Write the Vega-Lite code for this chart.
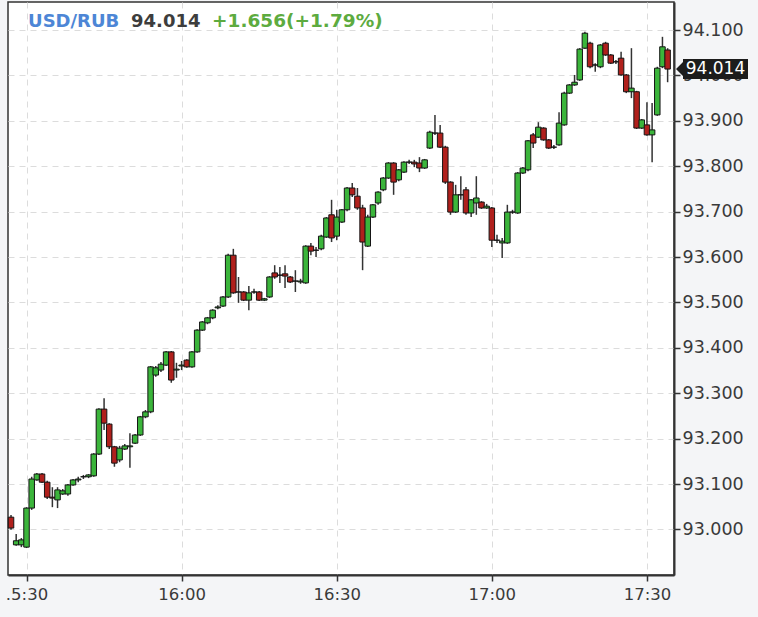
{
"$schema": "https://vega.github.io/schema/vega-lite/v6.json",
"width": 666, "height": 573,
"autosize": {"type": "none"},
"padding": {"left": 8, "top": 2, "right": 84, "bottom": 42},
"background": "#f4f5f7",
"config": {"view": {"fill": "white", "stroke": "#333333", "strokeWidth": 1.5}, "font": "DejaVu Sans"},
"datasets": {
"candles": [
{"t":"2023-08-10T15:27","o":93.027,"c":93.003,"h":93.032,"l":92.999},
{"t":"2023-08-10T15:28","o":92.966,"c":92.975,"h":92.990,"l":92.964},
{"t":"2023-08-10T15:29","o":92.966,"c":92.977,"h":92.981,"l":92.961},
{"t":"2023-08-10T15:30","o":92.961,"c":93.047,"h":93.049,"l":92.959},
{"t":"2023-08-10T15:31","o":93.047,"c":93.111,"h":93.116,"l":93.043},
{"t":"2023-08-10T15:32","o":93.109,"c":93.122,"h":93.124,"l":93.107},
{"t":"2023-08-10T15:33","o":93.122,"c":93.104,"h":93.124,"l":93.102},
{"t":"2023-08-10T15:34","o":93.104,"c":93.071,"h":93.107,"l":93.067},
{"t":"2023-08-10T15:35","o":93.071,"c":93.069,"h":93.093,"l":93.049},
{"t":"2023-08-10T15:36","o":93.065,"c":93.087,"h":93.093,"l":93.047},
{"t":"2023-08-10T15:37","o":93.078,"c":93.085,"h":93.089,"l":93.076},
{"t":"2023-08-10T15:38","o":93.078,"c":93.098,"h":93.100,"l":93.074},
{"t":"2023-08-10T15:39","o":93.098,"c":93.109,"h":93.111,"l":93.096},
{"t":"2023-08-10T15:40","o":93.109,"c":93.111,"h":93.116,"l":93.104},
{"t":"2023-08-10T15:41","o":93.116,"c":93.116,"h":93.120,"l":93.111},
{"t":"2023-08-10T15:42","o":93.116,"c":93.120,"h":93.122,"l":93.113},
{"t":"2023-08-10T15:43","o":93.118,"c":93.166,"h":93.168,"l":93.116},
{"t":"2023-08-10T15:44","o":93.166,"c":93.265,"h":93.267,"l":93.164},
{"t":"2023-08-10T15:45","o":93.265,"c":93.234,"h":93.289,"l":93.219},
{"t":"2023-08-10T15:46","o":93.232,"c":93.182,"h":93.234,"l":93.177},
{"t":"2023-08-10T15:47","o":93.182,"c":93.146,"h":93.184,"l":93.138},
{"t":"2023-08-10T15:48","o":93.153,"c":93.179,"h":93.184,"l":93.148},
{"t":"2023-08-10T15:49","o":93.177,"c":93.184,"h":93.188,"l":93.175},
{"t":"2023-08-10T15:50","o":93.182,"c":93.184,"h":93.212,"l":93.136},
{"t":"2023-08-10T15:51","o":93.190,"c":93.208,"h":93.210,"l":93.188},
{"t":"2023-08-10T15:52","o":93.208,"c":93.248,"h":93.250,"l":93.206},
{"t":"2023-08-10T15:53","o":93.248,"c":93.259,"h":93.263,"l":93.245},
{"t":"2023-08-10T15:54","o":93.259,"c":93.358,"h":93.360,"l":93.256},
{"t":"2023-08-10T15:55","o":93.340,"c":93.356,"h":93.360,"l":93.336},
{"t":"2023-08-10T15:56","o":93.351,"c":93.364,"h":93.369,"l":93.347},
{"t":"2023-08-10T15:57","o":93.362,"c":93.391,"h":93.393,"l":93.360},
{"t":"2023-08-10T15:58","o":93.391,"c":93.329,"h":93.393,"l":93.323},
{"t":"2023-08-10T15:59","o":93.351,"c":93.353,"h":93.367,"l":93.334},
{"t":"2023-08-10T16:00","o":93.360,"c":93.362,"h":93.371,"l":93.351},
{"t":"2023-08-10T16:01","o":93.373,"c":93.358,"h":93.375,"l":93.356},
{"t":"2023-08-10T16:02","o":93.358,"c":93.391,"h":93.393,"l":93.356},
{"t":"2023-08-10T16:03","o":93.391,"c":93.439,"h":93.441,"l":93.389},
{"t":"2023-08-10T16:04","o":93.439,"c":93.457,"h":93.459,"l":93.437},
{"t":"2023-08-10T16:05","o":93.455,"c":93.466,"h":93.468,"l":93.452},
{"t":"2023-08-10T16:06","o":93.466,"c":93.483,"h":93.485,"l":93.463},
{"t":"2023-08-10T16:07","o":93.488,"c":93.490,"h":93.494,"l":93.485},
{"t":"2023-08-10T16:08","o":93.492,"c":93.512,"h":93.514,"l":93.490},
{"t":"2023-08-10T16:09","o":93.512,"c":93.604,"h":93.607,"l":93.510},
{"t":"2023-08-10T16:10","o":93.604,"c":93.521,"h":93.618,"l":93.519},
{"t":"2023-08-10T16:11","o":93.523,"c":93.523,"h":93.556,"l":93.499},
{"t":"2023-08-10T16:12","o":93.523,"c":93.505,"h":93.525,"l":93.503},
{"t":"2023-08-10T16:13","o":93.505,"c":93.521,"h":93.536,"l":93.483},
{"t":"2023-08-10T16:14","o":93.523,"c":93.523,"h":93.530,"l":93.519},
{"t":"2023-08-10T16:15","o":93.523,"c":93.505,"h":93.525,"l":93.503},
{"t":"2023-08-10T16:16","o":93.505,"c":93.508,"h":93.510,"l":93.503},
{"t":"2023-08-10T16:17","o":93.512,"c":93.556,"h":93.558,"l":93.510},
{"t":"2023-08-10T16:18","o":93.565,"c":93.556,"h":93.582,"l":93.552},
{"t":"2023-08-10T16:19","o":93.560,"c":93.560,"h":93.578,"l":93.543},
{"t":"2023-08-10T16:20","o":93.563,"c":93.558,"h":93.582,"l":93.532},
{"t":"2023-08-10T16:21","o":93.556,"c":93.545,"h":93.558,"l":93.543},
{"t":"2023-08-10T16:22","o":93.547,"c":93.547,"h":93.571,"l":93.523},
{"t":"2023-08-10T16:23","o":93.545,"c":93.547,"h":93.552,"l":93.541},
{"t":"2023-08-10T16:24","o":93.543,"c":93.624,"h":93.626,"l":93.541},
{"t":"2023-08-10T16:25","o":93.624,"c":93.613,"h":93.631,"l":93.604},
{"t":"2023-08-10T16:26","o":93.615,"c":93.615,"h":93.622,"l":93.600},
{"t":"2023-08-10T16:27","o":93.618,"c":93.646,"h":93.649,"l":93.615},
{"t":"2023-08-10T16:28","o":93.644,"c":93.686,"h":93.688,"l":93.642},
{"t":"2023-08-10T16:29","o":93.693,"c":93.642,"h":93.726,"l":93.633},
{"t":"2023-08-10T16:30","o":93.646,"c":93.688,"h":93.704,"l":93.637},
{"t":"2023-08-10T16:31","o":93.677,"c":93.704,"h":93.706,"l":93.675},
{"t":"2023-08-10T16:32","o":93.704,"c":93.752,"h":93.754,"l":93.701},
{"t":"2023-08-10T16:33","o":93.752,"c":93.737,"h":93.763,"l":93.732},
{"t":"2023-08-10T16:34","o":93.734,"c":93.708,"h":93.752,"l":93.704},
{"t":"2023-08-10T16:35","o":93.708,"c":93.633,"h":93.715,"l":93.571},
{"t":"2023-08-10T16:36","o":93.624,"c":93.688,"h":93.693,"l":93.622},
{"t":"2023-08-10T16:37","o":93.688,"c":93.715,"h":93.717,"l":93.686},
{"t":"2023-08-10T16:38","o":93.719,"c":93.743,"h":93.745,"l":93.715},
{"t":"2023-08-10T16:39","o":93.748,"c":93.774,"h":93.776,"l":93.745},
{"t":"2023-08-10T16:40","o":93.774,"c":93.807,"h":93.809,"l":93.772},
{"t":"2023-08-10T16:41","o":93.807,"c":93.765,"h":93.809,"l":93.737},
{"t":"2023-08-10T16:42","o":93.770,"c":93.792,"h":93.794,"l":93.767},
{"t":"2023-08-10T16:43","o":93.787,"c":93.809,"h":93.811,"l":93.785},
{"t":"2023-08-10T16:44","o":93.809,"c":93.809,"h":93.814,"l":93.805},
{"t":"2023-08-10T16:45","o":93.809,"c":93.805,"h":93.814,"l":93.798},
{"t":"2023-08-10T16:46","o":93.807,"c":93.796,"h":93.820,"l":93.787},
{"t":"2023-08-10T16:47","o":93.796,"c":93.814,"h":93.816,"l":93.794},
{"t":"2023-08-10T16:48","o":93.840,"c":93.875,"h":93.878,"l":93.838},
{"t":"2023-08-10T16:49","o":93.873,"c":93.873,"h":93.913,"l":93.869},
{"t":"2023-08-10T16:50","o":93.873,"c":93.842,"h":93.891,"l":93.840},
{"t":"2023-08-10T16:51","o":93.842,"c":93.765,"h":93.845,"l":93.761},
{"t":"2023-08-10T16:52","o":93.765,"c":93.699,"h":93.767,"l":93.693},
{"t":"2023-08-10T16:53","o":93.699,"c":93.737,"h":93.759,"l":93.697},
{"t":"2023-08-10T16:54","o":93.737,"c":93.737,"h":93.778,"l":93.726},
{"t":"2023-08-10T16:55","o":93.748,"c":93.697,"h":93.754,"l":93.693},
{"t":"2023-08-10T16:56","o":93.697,"c":93.726,"h":93.728,"l":93.688},
{"t":"2023-08-10T16:57","o":93.719,"c":93.730,"h":93.778,"l":93.693},
{"t":"2023-08-10T16:58","o":93.721,"c":93.708,"h":93.723,"l":93.706},
{"t":"2023-08-10T16:59","o":93.708,"c":93.712,"h":93.717,"l":93.706},
{"t":"2023-08-10T17:00","o":93.708,"c":93.637,"h":93.710,"l":93.622},
{"t":"2023-08-10T17:01","o":93.637,"c":93.637,"h":93.649,"l":93.631},
{"t":"2023-08-10T17:02","o":93.631,"c":93.635,"h":93.642,"l":93.598},
{"t":"2023-08-10T17:03","o":93.631,"c":93.699,"h":93.715,"l":93.629},
{"t":"2023-08-10T17:04","o":93.699,"c":93.699,"h":93.704,"l":93.695},
{"t":"2023-08-10T17:05","o":93.697,"c":93.785,"h":93.787,"l":93.695},
{"t":"2023-08-10T17:06","o":93.785,"c":93.796,"h":93.798,"l":93.783},
{"t":"2023-08-10T17:07","o":93.792,"c":93.856,"h":93.858,"l":93.789},
{"t":"2023-08-10T17:08","o":93.869,"c":93.851,"h":93.873,"l":93.840},
{"t":"2023-08-10T17:09","o":93.864,"c":93.886,"h":93.897,"l":93.862},
{"t":"2023-08-10T17:10","o":93.884,"c":93.858,"h":93.886,"l":93.856},
{"t":"2023-08-10T17:11","o":93.858,"c":93.840,"h":93.860,"l":93.838},
{"t":"2023-08-10T17:12","o":93.842,"c":93.842,"h":93.847,"l":93.838},
{"t":"2023-08-10T17:13","o":93.847,"c":93.895,"h":93.919,"l":93.845},
{"t":"2023-08-10T17:14","o":93.891,"c":93.961,"h":93.964,"l":93.889},
{"t":"2023-08-10T17:15","o":93.961,"c":93.979,"h":93.981,"l":93.959},
{"t":"2023-08-10T17:16","o":93.979,"c":93.985,"h":94.001,"l":93.977},
{"t":"2023-08-10T17:17","o":93.990,"c":94.058,"h":94.060,"l":93.988},
{"t":"2023-08-10T17:18","o":94.060,"c":94.093,"h":94.096,"l":94.058},
{"t":"2023-08-10T17:19","o":94.071,"c":94.019,"h":94.074,"l":94.016},
{"t":"2023-08-10T17:20","o":94.023,"c":94.023,"h":94.027,"l":94.008},
{"t":"2023-08-10T17:21","o":94.019,"c":94.067,"h":94.069,"l":94.016},
{"t":"2023-08-10T17:22","o":94.071,"c":94.045,"h":94.074,"l":94.043},
{"t":"2023-08-10T17:23","o":94.045,"c":94.027,"h":94.047,"l":94.025},
{"t":"2023-08-10T17:24","o":94.030,"c":94.030,"h":94.034,"l":94.025},
{"t":"2023-08-10T17:25","o":94.038,"c":94.001,"h":94.052,"l":93.999},
{"t":"2023-08-10T17:26","o":94.001,"c":93.964,"h":94.003,"l":93.961},
{"t":"2023-08-10T17:27","o":93.964,"c":93.972,"h":94.060,"l":93.950},
{"t":"2023-08-10T17:28","o":93.964,"c":93.884,"h":93.966,"l":93.882},
{"t":"2023-08-10T17:29","o":93.884,"c":93.902,"h":93.904,"l":93.882},
{"t":"2023-08-10T17:30","o":93.891,"c":93.869,"h":93.941,"l":93.867},
{"t":"2023-08-10T17:31","o":93.869,"c":93.880,"h":93.939,"l":93.809},
{"t":"2023-08-10T17:32","o":93.913,"c":94.016,"h":94.019,"l":93.911},
{"t":"2023-08-10T17:33","o":94.019,"c":94.063,"h":94.085,"l":94.016},
{"t":"2023-08-10T17:34","o":94.056,"c":94.014,"h":94.060,"l":93.985}
],
"last": [{"p": 94.014}]
},
"data": {"name": "candles"},
"layer": [
{
"mark": {"type": "rule", "color": "#333333", "strokeWidth": 1.5},
"encoding": {
"x": {"field": "t", "type": "temporal",
"scale": {"domain": [{"year":2023,"month":8,"date":10,"hours":15,"minutes":26,"seconds":25},{"year":2023,"month":8,"date":10,"hours":17,"minutes":35,"seconds":14}], "padding": 0, "nice": false},
"axis": {"title": null, "format": "%H:%M",
"values": [{"year":2023,"month":8,"date":10,"hours":15,"minutes":30},{"year":2023,"month":8,"date":10,"hours":16,"minutes":0},{"year":2023,"month":8,"date":10,"hours":16,"minutes":30},{"year":2023,"month":8,"date":10,"hours":17,"minutes":0},{"year":2023,"month":8,"date":10,"hours":17,"minutes":30}],
"labelExpr": "datum.label == '15:30' ? '.5:30' : datum.label",
"labelFont": "DejaVu Sans", "labelFontSize": 16.5, "labelColor": "#3a3a3a",
"labelPadding": 5, "labelFlush": false, "labelOverlap": false,
"tickSize": 6, "tickColor": "#333333", "tickWidth": 1.5,
"domainColor": "#333333", "domainWidth": 2,
"grid": true, "gridColor": "#dcdcdc", "gridDash": [6, 5], "gridWidth": 1}},
"y": {"field": "l", "type": "quantitative",
"scale": {"domain": [92.8996, 94.1617], "zero": false, "nice": false, "padding": 0},
"axis": {"orient": "right", "title": null, "format": ".3f",
"values": [93.0, 93.1, 93.2, 93.3, 93.4, 93.5, 93.6, 93.7, 93.8, 93.9, 94.0, 94.1],
"labelFont": "DejaVu Sans", "labelFontSize": 17.5, "labelColor": "#3a3a3a",
"labelPadding": 2, "labelFlush": false, "labelOverlap": false,
"tickSize": 6, "tickColor": "#333333", "tickWidth": 1.5,
"domainColor": "#333333", "domainWidth": 2,
"grid": true, "gridColor": "#dcdcdc", "gridDash": [6, 5], "gridWidth": 1}},
"y2": {"field": "h"}
}
},
{
"mark": {"type": "bar", "size": 5.5, "stroke": "#151515", "strokeWidth": 1},
"encoding": {
"x": {"field": "t", "type": "temporal"},
"y": {"field": "o", "type": "quantitative"},
"y2": {"field": "c"},
"color": {"condition": {"test": "datum.c < datum.o", "value": "#b0201c"}, "value": "#3bb53b"}
}
},
{
"data": {"name": "last"},
"mark": {"type": "point", "shape": "M0.2,0L0.9,-0.7L0.9,-1L7.4,-1L7.4,1L0.9,1L0.9,0.7Z", "size": 400, "filled": true, "color": "#1c1c1c", "opacity": 1, "strokeWidth": 0},
"encoding": {
"x": {"datum": {"year":2023,"month":8,"date":10,"hours":17,"minutes":35,"seconds":14}, "type": "temporal"},
"y": {"field": "p", "type": "quantitative"}
}
},
{
"data": {"name": "last"},
"mark": {"type": "text", "color": "white", "font": "DejaVu Sans", "fontSize": 17, "align": "center", "baseline": "middle", "dx": 41.5},
"encoding": {
"x": {"datum": {"year":2023,"month":8,"date":10,"hours":17,"minutes":35,"seconds":14}, "type": "temporal"},
"y": {"field": "p", "type": "quantitative"},
"text": {"field": "p", "type": "quantitative", "format": ".3f"}
}
},
{
"data": {"values": [{"s": "USD/RUB"}]},
"mark": {"type": "text", "color": "#4d86d6", "font": "DejaVu Sans", "fontWeight": "bold", "fontSize": 18, "align": "left", "baseline": "alphabetic", "dx": 1.5},
"encoding": {
"x": {"datum": {"year":2023,"month":8,"date":10,"hours":15,"minutes":30}, "type": "temporal"},
"y": {"datum": 94.1066, "type": "quantitative"},
"text": {"field": "s"}
}
},
{
"data": {"values": [{"s": "94.014"}]},
"mark": {"type": "text", "color": "#3d3d3d", "font": "DejaVu Sans", "fontWeight": "bold", "fontSize": 18, "align": "left", "baseline": "alphabetic", "dx": 104.5},
"encoding": {
"x": {"datum": {"year":2023,"month":8,"date":10,"hours":15,"minutes":30}, "type": "temporal"},
"y": {"datum": 94.1066, "type": "quantitative"},
"text": {"field": "s"}
}
},
{
"data": {"values": [{"s": "+1.656(+1.79%)"}]},
"mark": {"type": "text", "color": "#5dab3f", "font": "DejaVu Sans", "fontWeight": "bold", "fontSize": 18.5, "align": "left", "baseline": "alphabetic", "dx": 185.5},
"encoding": {
"x": {"datum": {"year":2023,"month":8,"date":10,"hours":15,"minutes":30}, "type": "temporal"},
"y": {"datum": 94.1066, "type": "quantitative"},
"text": {"field": "s"}
}
}
]
}
